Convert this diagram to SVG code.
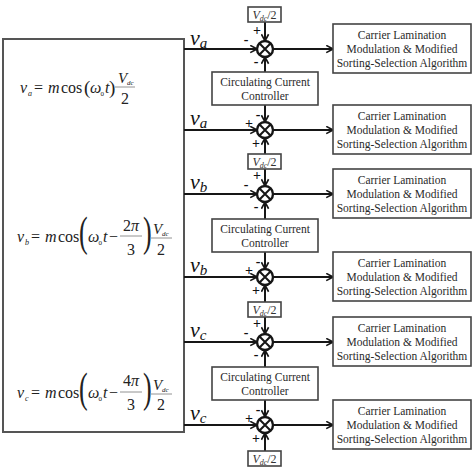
<svg xmlns="http://www.w3.org/2000/svg" width="474" height="474" viewBox="0 0 474 474">
<style>
.bg{fill:#ffffff}
.box{fill:#ffffff;stroke:#444;stroke-width:1.6}
.big{fill:#ffffff;stroke:#555;stroke-width:2}
.ln{fill:none;stroke:#161616;stroke-width:2}
.sum{fill:#ffffff;stroke:#161616;stroke-width:2.4}
.x{stroke:#161616;stroke-width:2}
.it{font-style:italic}
.lbl{font-family:"Liberation Serif","Times New Roman","DejaVu Serif",serif;font-style:italic;font-size:22px;fill:#111}
.sg{font-family:"Liberation Serif","Times New Roman","DejaVu Serif",serif;font-size:14px;font-weight:bold;fill:#111;text-anchor:middle}
.rb{font-family:"Liberation Serif","Times New Roman","DejaVu Serif",serif;font-size:11.5px;fill:#2a2a2a;text-anchor:middle}
.cc{font-family:"Liberation Serif","Times New Roman","DejaVu Serif",serif;font-size:11.5px;fill:#2a2a2a;text-anchor:middle}
.vd{font-family:"Liberation Serif","Times New Roman","DejaVu Serif",serif;font-size:12px;fill:#333;text-anchor:middle}
.eq{font-family:"Liberation Serif","Times New Roman","DejaVu Serif",serif;font-size:16px;fill:#222}
.fr{stroke:#777;stroke-width:0.8}
</style>
<defs>
<marker id="arr" viewBox="0 0 10 10" refX="9" refY="5" markerWidth="9" markerHeight="9" orient="auto" markerUnits="userSpaceOnUse">
<path d="M1.5,1 L9,5 L1.5,9" fill="none" stroke="#161616" stroke-width="1.8"/>
</marker>
</defs>
<rect class="bg" x="0" y="0" width="474" height="474"/>

<g id="source">
<rect class="big" x="3" y="39" width="181" height="393"/>
<g id="eq-a" class="eq">
<text x="20" y="93" class="it">v</text><text x="28" y="96" class="it" font-size="8">a</text>
<text x="34" y="93">=</text>
<text x="48" y="93" class="it">m</text>
<text x="61" y="93">cos</text>
<text x="84" y="94" font-size="19">(</text>
<text x="90" y="93" class="it">ω</text><text x="100.5" y="96" font-size="7">0</text>
<text x="105" y="93" class="it">t</text>
<text x="109" y="94" font-size="19">)</text>
<text x="118" y="83" class="it" font-size="15">V</text><text x="127" y="85" class="it" font-size="7">dc</text>
<line class="fr" x1="115" y1="87" x2="135" y2="87"/>
<text x="125" y="104" text-anchor="middle">2</text>
</g>
<g id="eq-b" class="eq">
<text x="17" y="242" class="it">v</text><text x="25" y="245" class="it" font-size="8">b</text>
<text x="31" y="242">=</text>
<text x="45" y="242" class="it">m</text>
<text x="58" y="242">cos</text>
<text transform="translate(79,246) scale(0.62,1)" font-size="42">(</text>
<text x="88" y="242" class="it">ω</text><text x="98.5" y="245" font-size="7">0</text>
<text x="103" y="242" class="it">t</text>
<text x="109" y="242">−</text>
<text x="131" y="231" text-anchor="middle">2<tspan class="it">π</tspan></text>
<line class="fr" x1="120" y1="236" x2="142" y2="236"/>
<text x="131" y="255" text-anchor="middle">3</text>
<text transform="translate(143,246) scale(0.62,1)" font-size="42">)</text>
<text x="153" y="234" class="it" font-size="15">V</text><text x="162" y="236" class="it" font-size="7">dc</text>
<line class="fr" x1="151" y1="238" x2="172" y2="238"/>
<text x="161" y="255" text-anchor="middle">2</text>
</g>
<g id="eq-c" class="eq">
<text x="17" y="398" class="it">v</text><text x="25" y="401" class="it" font-size="8">c</text>
<text x="31" y="398">=</text>
<text x="45" y="398" class="it">m</text>
<text x="58" y="398">cos</text>
<text transform="translate(79,402) scale(0.62,1)" font-size="42">(</text>
<text x="88" y="398" class="it">ω</text><text x="98.5" y="401" font-size="7">0</text>
<text x="103" y="398" class="it">t</text>
<text x="109" y="398">−</text>
<text x="131" y="386" text-anchor="middle">4<tspan class="it">π</tspan></text>
<line class="fr" x1="120" y1="392" x2="142" y2="392"/>
<text x="131" y="410" text-anchor="middle">3</text>
<text transform="translate(143,402) scale(0.62,1)" font-size="42">)</text>
<text x="153" y="390" class="it" font-size="15">V</text><text x="162" y="392" class="it" font-size="7">dc</text>
<line class="fr" x1="151" y1="394" x2="172" y2="394"/>
<text x="161" y="410" text-anchor="middle">2</text>
</g>
</g>

<g id="connectors">
<line class="ln" x1="184" y1="49" x2="257" y2="49" marker-end="url(#arr)"/>
<line class="ln" x1="184" y1="130" x2="257" y2="130" marker-end="url(#arr)"/>
<line class="ln" x1="184" y1="194" x2="257" y2="194" marker-end="url(#arr)"/>
<line class="ln" x1="184" y1="277" x2="257" y2="277" marker-end="url(#arr)"/>
<line class="ln" x1="184" y1="342" x2="257" y2="342" marker-end="url(#arr)"/>
<line class="ln" x1="184" y1="425" x2="257" y2="425" marker-end="url(#arr)"/>
<line class="ln" x1="273" y1="49" x2="333" y2="49" marker-end="url(#arr)"/>
<line class="ln" x1="273" y1="130" x2="333" y2="130" marker-end="url(#arr)"/>
<line class="ln" x1="273" y1="194" x2="333" y2="194" marker-end="url(#arr)"/>
<line class="ln" x1="273" y1="277" x2="333" y2="277" marker-end="url(#arr)"/>
<line class="ln" x1="273" y1="342" x2="333" y2="342" marker-end="url(#arr)"/>
<line class="ln" x1="273" y1="425" x2="333" y2="425" marker-end="url(#arr)"/>
<line class="ln" x1="265" y1="22" x2="265" y2="41" marker-end="url(#arr)"/>
<line class="ln" x1="265" y1="72" x2="265" y2="57" marker-end="url(#arr)"/>
<line class="ln" x1="265" y1="105" x2="265" y2="122" marker-end="url(#arr)"/>
<line class="ln" x1="265" y1="154" x2="265" y2="138" marker-end="url(#arr)"/>
<line class="ln" x1="265" y1="169" x2="265" y2="186" marker-end="url(#arr)"/>
<line class="ln" x1="265" y1="219" x2="265" y2="202" marker-end="url(#arr)"/>
<line class="ln" x1="265" y1="252" x2="265" y2="269" marker-end="url(#arr)"/>
<line class="ln" x1="265" y1="302" x2="265" y2="285" marker-end="url(#arr)"/>
<line class="ln" x1="265" y1="317" x2="265" y2="334" marker-end="url(#arr)"/>
<line class="ln" x1="265" y1="367" x2="265" y2="350" marker-end="url(#arr)"/>
<line class="ln" x1="265" y1="400" x2="265" y2="417" marker-end="url(#arr)"/>
<line class="ln" x1="265" y1="451" x2="265" y2="433" marker-end="url(#arr)"/>
</g>

<g id="labels">
<text class="lbl" x="190" y="45">v<tspan font-size="15" dy="3">a</tspan></text>
<text class="lbl" x="190" y="125">v<tspan font-size="15" dy="3">a</tspan></text>
<text class="lbl" x="190" y="189">v<tspan font-size="15" dy="3">b</tspan></text>
<text class="lbl" x="190" y="272">v<tspan font-size="15" dy="3">b</tspan></text>
<text class="lbl" x="190" y="337">v<tspan font-size="15" dy="3">c</tspan></text>
<text class="lbl" x="190" y="420">v<tspan font-size="15" dy="3">c</tspan></text>
</g>

<g id="sum-a1"><circle class="sum" cx="265" cy="49" r="8"/><path class="x" d="M259.3,43.3 L270.7,54.7 M270.7,43.3 L259.3,54.7"/>
<text class="sg" x="257" y="34.5">+</text><text class="sg" x="246" y="43.5">-</text><text class="sg" x="256" y="65.5">-</text></g>
<g id="sum-a2"><circle class="sum" cx="265" cy="130" r="8"/><path class="x" d="M259.3,124.3 L270.7,135.7 M270.7,124.3 L259.3,135.7"/>
<text class="sg" x="258" y="118.5">-</text><text class="sg" x="249" y="127.5">+</text><text class="sg" x="256" y="147.5">+</text></g>
<g id="sum-b1"><circle class="sum" cx="265" cy="194" r="8"/><path class="x" d="M259.3,188.3 L270.7,199.7 M270.7,188.3 L259.3,199.7"/>
<text class="sg" x="257" y="179.5">+</text><text class="sg" x="246" y="188.5">-</text><text class="sg" x="256" y="210.5">-</text></g>
<g id="sum-b2"><circle class="sum" cx="265" cy="277" r="8"/><path class="x" d="M259.3,271.3 L270.7,282.7 M270.7,271.3 L259.3,282.7"/>
<text class="sg" x="258" y="265.5">-</text><text class="sg" x="249" y="274.5">+</text><text class="sg" x="256" y="294.5">+</text></g>
<g id="sum-c1"><circle class="sum" cx="265" cy="342" r="8"/><path class="x" d="M259.3,336.3 L270.7,347.7 M270.7,336.3 L259.3,347.7"/>
<text class="sg" x="257" y="327.5">+</text><text class="sg" x="246" y="336.5">-</text><text class="sg" x="256" y="358.5">-</text></g>
<g id="sum-c2"><circle class="sum" cx="265" cy="425" r="8"/><path class="x" d="M259.3,419.3 L270.7,430.7 M270.7,419.3 L259.3,430.7"/>
<text class="sg" x="258" y="413.5">-</text><text class="sg" x="249" y="422.5">+</text><text class="sg" x="256" y="442.5">+</text></g>

<g id="vdc-1"><rect class="box" x="248" y="7" width="33" height="15"/><text class="vd" x="264.5" y="18.5"><tspan font-style="italic">V</tspan><tspan font-style="italic" font-size="8" dy="2">dc</tspan><tspan dy="-2">/2</tspan></text></g>
<g id="vdc-2"><rect class="box" x="248" y="154" width="33" height="15"/><text class="vd" x="264.5" y="165.5"><tspan font-style="italic">V</tspan><tspan font-style="italic" font-size="8" dy="2">dc</tspan><tspan dy="-2">/2</tspan></text></g>
<g id="vdc-3"><rect class="box" x="248" y="302" width="33" height="15"/><text class="vd" x="264.5" y="313.5"><tspan font-style="italic">V</tspan><tspan font-style="italic" font-size="8" dy="2">dc</tspan><tspan dy="-2">/2</tspan></text></g>
<g id="vdc-4"><rect class="box" x="248" y="451" width="33" height="15"/><text class="vd" x="264.5" y="462.5"><tspan font-style="italic">V</tspan><tspan font-style="italic" font-size="8" dy="2">dc</tspan><tspan dy="-2">/2</tspan></text></g>

<g id="ccc-a"><rect class="box" x="212" y="72" width="106" height="33"/><text class="cc" x="265" y="86">Circulating Current</text><text class="cc" x="265" y="100">Controller</text></g>
<g id="ccc-b"><rect class="box" x="212" y="219" width="106" height="33"/><text class="cc" x="265" y="233">Circulating Current</text><text class="cc" x="265" y="247">Controller</text></g>
<g id="ccc-c"><rect class="box" x="212" y="367" width="106" height="33"/><text class="cc" x="265" y="381">Circulating Current</text><text class="cc" x="265" y="395">Controller</text></g>

<g id="clm-1"><rect class="box" x="333" y="24" width="138" height="49"/><text class="rb" x="402" y="39">Carrier Lamination</text><text class="rb" x="402" y="53">Modulation &amp; Modified</text><text class="rb" x="402" y="67">Sorting-Selection Algorithm</text></g>
<g id="clm-2"><rect class="box" x="333" y="105" width="138" height="49"/><text class="rb" x="402" y="120">Carrier Lamination</text><text class="rb" x="402" y="134">Modulation &amp; Modified</text><text class="rb" x="402" y="148">Sorting-Selection Algorithm</text></g>
<g id="clm-3"><rect class="box" x="333" y="169" width="138" height="49"/><text class="rb" x="402" y="184">Carrier Lamination</text><text class="rb" x="402" y="198">Modulation &amp; Modified</text><text class="rb" x="402" y="212">Sorting-Selection Algorithm</text></g>
<g id="clm-4"><rect class="box" x="333" y="252" width="138" height="49"/><text class="rb" x="402" y="267">Carrier Lamination</text><text class="rb" x="402" y="281">Modulation &amp; Modified</text><text class="rb" x="402" y="295">Sorting-Selection Algorithm</text></g>
<g id="clm-5"><rect class="box" x="333" y="317" width="138" height="49"/><text class="rb" x="402" y="332">Carrier Lamination</text><text class="rb" x="402" y="346">Modulation &amp; Modified</text><text class="rb" x="402" y="360">Sorting-Selection Algorithm</text></g>
<g id="clm-6"><rect class="box" x="333" y="400" width="138" height="49"/><text class="rb" x="402" y="415">Carrier Lamination</text><text class="rb" x="402" y="429">Modulation &amp; Modified</text><text class="rb" x="402" y="443">Sorting-Selection Algorithm</text></g>
</svg>
